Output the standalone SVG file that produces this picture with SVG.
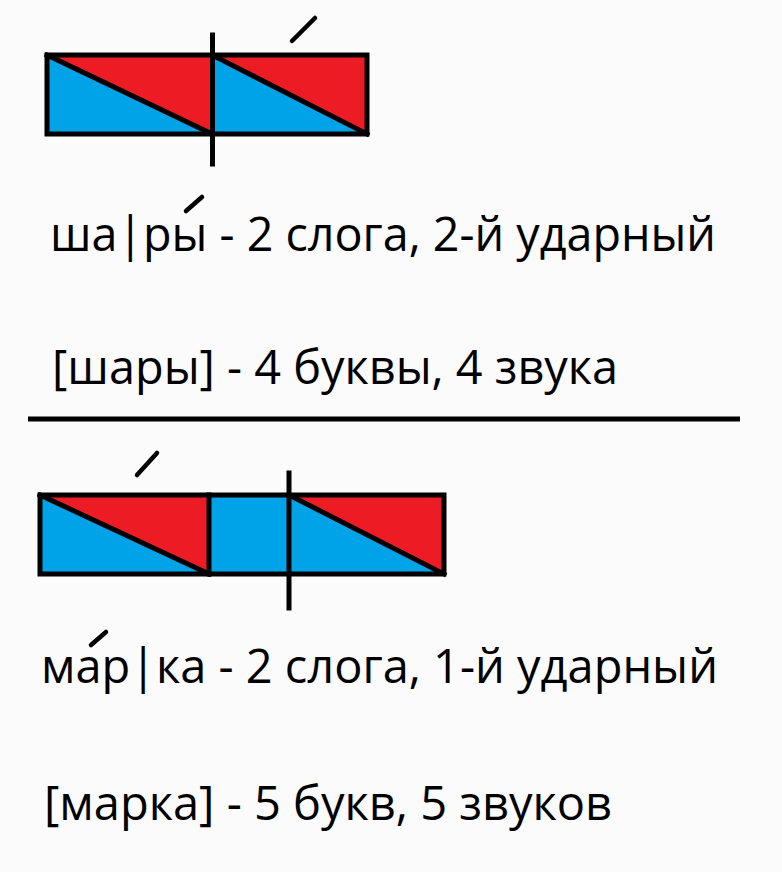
<svg xmlns="http://www.w3.org/2000/svg" width="782" height="872" viewBox="0 0 782 872">
<style>
.r{fill:#ED1C24}
.b{fill:#00A2E8}
.k{stroke:#000;stroke-width:5;fill:none;stroke-linecap:square}
.a{stroke:#000;stroke-width:4.5;stroke-linecap:round}
.t{font-family:"Open Sans","Noto Sans","DejaVu Sans",sans-serif;font-size:47px;fill:#000}
</style>
<rect width="782" height="872" fill="#FBFBFB"/>
<g id="scheme1">
<polygon class="b" points="47,55 47,134 212,134"/>
<polygon class="r" points="47,55 212,55 212,134"/>
<polygon class="b" points="212,55 212,134 367,134"/>
<polygon class="r" points="212,55 367,55 367,134"/>
<rect class="k" x="47" y="55" width="320" height="79"/>
<line class="k" x1="47" y1="55" x2="212" y2="134"/>
<line class="k" x1="212" y1="55" x2="367" y2="134"/>
<line class="k" x1="212.5" y1="35" x2="212.5" y2="164" stroke-linecap="butt"/>
<line class="a" x1="292" y1="41" x2="315" y2="18"/>
</g>
<g id="text1">
<text class="t" x="50" y="251" textLength="666" lengthAdjust="spacingAndGlyphs">ша|ры - 2 слога, 2-й ударный</text>
<line class="a" x1="186" y1="211" x2="202" y2="197"/>
<text class="t" x="52" y="384" textLength="566" lengthAdjust="spacingAndGlyphs">[шары] - 4 буквы, 4 звука</text>
</g>
<g id="divider">
<line x1="28" y1="419" x2="740" y2="419" stroke="#000" stroke-width="5"/>
</g>
<g id="scheme2">
<polygon class="b" points="40,495 40,574 209,574"/>
<polygon class="r" points="40,495 209,495 209,574"/>
<rect class="b" x="209" y="495" width="80" height="79"/>
<polygon class="b" points="289,495 289,574 444,574"/>
<polygon class="r" points="289,495 444,495 444,574"/>
<rect class="k" x="40" y="495" width="404" height="79"/>
<line class="k" x1="40" y1="495" x2="209" y2="574"/>
<line class="k" x1="289" y1="495" x2="444" y2="574"/>
<line class="k" x1="209" y1="495" x2="209" y2="574"/>
<line class="k" x1="289" y1="473" x2="289" y2="608" stroke-linecap="butt"/>
<line class="a" x1="137" y1="475" x2="157" y2="453"/>
</g>
<g id="text2">
<text class="t" x="41" y="683" textLength="677" lengthAdjust="spacingAndGlyphs">мар|ка - 2 слога, 1-й ударный</text>
<line class="a" x1="91" y1="645" x2="106" y2="632"/>
<text class="t" x="44" y="820" textLength="568" lengthAdjust="spacingAndGlyphs">[марка] - 5 букв, 5 звуков</text>
</g>
</svg>
